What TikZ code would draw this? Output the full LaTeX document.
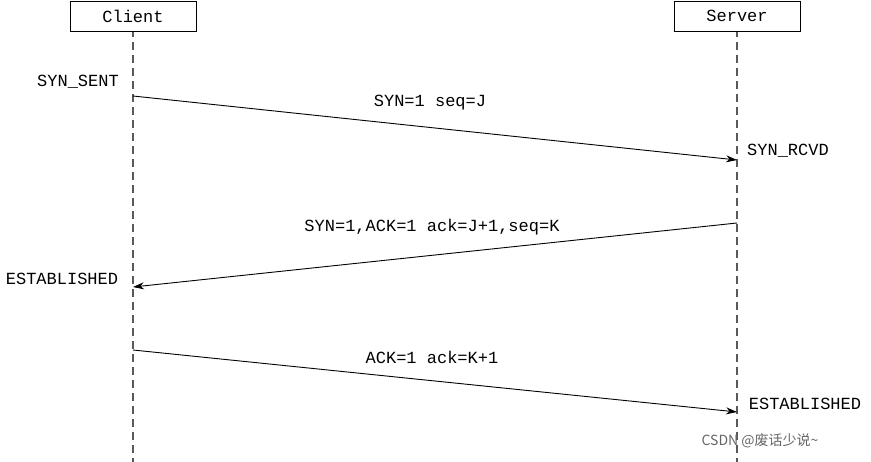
\documentclass[tikz,border=0pt]{standalone}
\usepackage{fontspec}
\setmonofont{Liberation Mono}
\newfontfamily\cjk{Noto Sans CJK SC}
\usetikzlibrary{arrows.meta}
\begin{document}
\begin{tikzpicture}[x=1pt,y=-1pt,
  lbl/.style={font=\ttfamily\fontsize{17}{17}\selectfont,inner sep=0pt},
  hdr/.style={draw,line width=0.8pt,minimum width=126pt,minimum height=30pt,font=\ttfamily\fontsize{17}{17}\selectfont,fill=white},
  life/.style={dashed,dash pattern=on 8pt off 5pt,line width=1.2pt,gray!70!black},
  msg/.style={-{Stealth[length=11pt,width=7pt]},line width=0.9pt}]
\useasboundingbox (0,0) rectangle (871,462);
\draw[life] (133,16) -- (133,462);
\draw[life] (737,16) -- (737,462);
\node[hdr] (c) at (133,16) {Client};
\node[hdr] (s) at (737,16) {Server};
\coordinate (a1) at (133,96); \coordinate (b1) at (737,160);
\coordinate (a2) at (737,223); \coordinate (b2) at (133,287);
\coordinate (a3) at (133,350); \coordinate (b3) at (737,412);
\draw[msg] (a1) -- (b1);
\draw[msg] (a2) -- (b2);
\draw[msg] (a3) -- (b3);
\node[lbl] (l1) at (430,103) {SYN=1 seq=J};
\node[lbl] (l2) at (432,227) {SYN=1,ACK=1 ack=J+1,seq=K};
\node[lbl] (l3) at (432,357) {ACK=1 ack=K+1};
\node[lbl] (t1) at (78,82) {SYN\_SENT};
\node[lbl] (t2) at (788,151) {SYN\_RCVD};
\node[lbl] (t3) at (62,279) {ESTABLISHED};
\node[lbl] (t4) at (805,404) {ESTABLISHED};
\node[inner sep=0pt,text=gray!80!black,font=\fontsize{14}{14}\selectfont] (w) at (760,441) {\cjk CSDN @废话少说\textasciitilde};
\end{tikzpicture}
\end{document}
